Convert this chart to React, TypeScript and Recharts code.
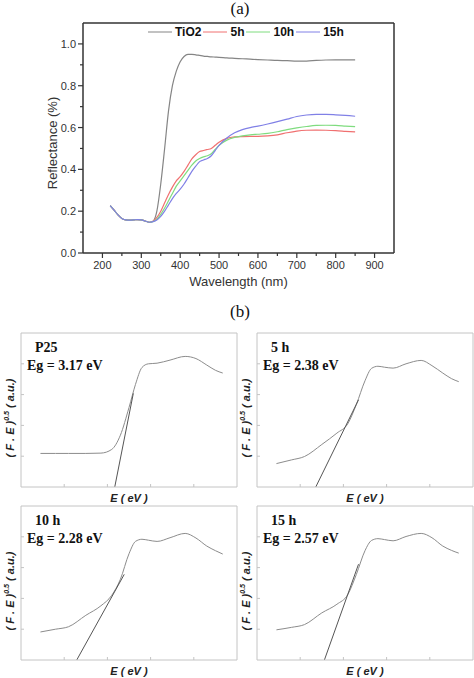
import React from 'react';
import { LineChart, Line, XAxis, YAxis, ReferenceLine, Legend } from 'recharts';

// (a) diffuse reflectance spectra
const wavelengths = [
  220, 230, 240, 250, 260, 270, 280, 290, 300, 310, 320, 330, 340, 350, 360, 370, 380, 390, 400, 410,
  420, 430, 440, 450, 460, 470, 480, 490, 500, 520, 540, 560, 580, 600, 625, 650, 675, 700, 725, 750,
  775, 800, 825, 850,
];
const tio2 = [
  0.227, 0.205, 0.182, 0.165, 0.158, 0.157, 0.158, 0.16, 0.158, 0.153, 0.147, 0.152, 0.2, 0.33, 0.5, 0.68,
  0.8, 0.87, 0.915, 0.94, 0.95, 0.95, 0.948, 0.945, 0.942, 0.94, 0.938, 0.937, 0.936, 0.933, 0.931, 0.929,
  0.927, 0.925, 0.923, 0.921, 0.92, 0.918, 0.918, 0.921, 0.923, 0.924, 0.924, 0.924,
];
const h5 = [
  0.227, 0.205, 0.182, 0.165, 0.158, 0.157, 0.158, 0.16, 0.158, 0.153, 0.147, 0.152, 0.17, 0.2, 0.24, 0.28,
  0.315, 0.345, 0.365, 0.39, 0.42, 0.45, 0.47, 0.485, 0.49, 0.495, 0.5, 0.515, 0.53, 0.548, 0.555, 0.557,
  0.558, 0.558, 0.56, 0.565, 0.575, 0.583, 0.587, 0.588, 0.587, 0.585, 0.582, 0.579,
];
const h10 = [
  0.227, 0.205, 0.182, 0.165, 0.158, 0.157, 0.158, 0.16, 0.158, 0.153, 0.147, 0.15, 0.162, 0.185, 0.215, 0.25,
  0.285, 0.32, 0.345, 0.37, 0.395, 0.42, 0.44, 0.452, 0.46, 0.465, 0.475, 0.495, 0.515, 0.54, 0.553, 0.56,
  0.565, 0.568, 0.572, 0.58, 0.59, 0.598, 0.605, 0.61, 0.611, 0.61, 0.607, 0.604,
];
const h15 = [
  0.227, 0.205, 0.182, 0.165, 0.158, 0.157, 0.158, 0.16, 0.158, 0.153, 0.147, 0.15, 0.158, 0.175, 0.2, 0.23,
  0.26, 0.285, 0.305, 0.33, 0.36, 0.39, 0.415, 0.437, 0.445, 0.452, 0.465, 0.49, 0.515, 0.55, 0.575, 0.59,
  0.6, 0.607, 0.617, 0.628, 0.64, 0.653, 0.66, 0.663, 0.663, 0.661, 0.658, 0.654,
];
const seriesNames = ['TiO2', '5h', '10h', '15h'];
const xTicksA = [200, 250, 300, 350, 400, 450, 500, 550, 600, 650, 700, 750, 800, 850, 900];
const yTicksA = [0, 0.1, 0.2, 0.3, 0.4, 0.5, 0.6, 0.7, 0.8, 0.9, 1.0];

const reflectance = wavelengths.map((w, i) => ({ w, tio2: tio2[i], h5: h5[i], h10: h10[i], h15: h15[i] }));

// (b) Tauc plots
const energies = [0.45, 0.8, 1.1, 1.5, 1.85, 2.1, 2.3, 2.5, 2.65, 2.8, 2.95, 3.15, 3.45, 3.8, 4.05, 4.3, 4.5, 4.67];
const p25 = [1.09, 1.09, 1.09, 1.09, 1.1, 1.22, 1.68, 2.58, 3.33, 3.88, 4.0, 4.02, 4.12, 4.24, 4.17, 3.96, 3.79, 3.7];
const t5h = [0.76, 0.88, 0.99, 1.38, 1.75, 2.05, 2.68, 3.45, 3.85, 3.92, 3.89, 3.86, 4.0, 4.11, 3.94, 3.7, 3.52, 3.42];
const t10h = [0.91, 1.0, 1.08, 1.45, 1.76, 2.1, 2.62, 3.45, 3.85, 3.92, 3.89, 3.85, 3.97, 4.11, 3.96, 3.7, 3.55, 3.44];
const t15h = [0.98, 1.06, 1.15, 1.53, 1.81, 2.12, 2.78, 3.55, 3.88, 3.94, 3.91, 3.87, 4.01, 4.11, 3.97, 3.7, 3.56, 3.47];
const tangentE = { p25: [2.17, 2.6], t5h: [1.36, 2.35], t10h: [1.29, 2.39], t15h: [1.56, 2.35] };
const tangentF = { p25: [0, 3.04], t5h: [0, 2.83], t10h: [0, 2.78], t15h: [0, 3.11] };
const gapTicks = [1, 2, 3, 4];

const SANS = '"Liberation Sans", Arial, sans-serif';
const SERIF = '"Liberation Serif", "Times New Roman", serif';
const INK = '#333';
const FRAME_B = '#c4c4c4';

function XTickA({ x, y, payload }: any) {
  const major = payload.value % 100 === 0;
  return (
    <g>
      <line x1={x} y1={y} x2={x} y2={y + (major ? 5 : 3)} stroke={INK} strokeWidth={1.2} />
      {major && (
        <text x={x} y={y + 16} textAnchor="middle" fontSize={11} fontFamily={SANS} fill={INK}>
          {payload.value}
        </text>
      )}
    </g>
  );
}

function YTickA({ x, y, payload }: any) {
  const major = Math.round(payload.value * 10) % 2 === 0;
  return (
    <g>
      <line x1={x} y1={y} x2={x - (major ? 5 : 3)} y2={y} stroke={INK} strokeWidth={1.2} />
      {major && (
        <text x={x - 7} y={y + 4} textAnchor="end" fontSize={11} fontFamily={SANS} fill={INK}>
          {payload.value.toFixed(1)}
        </text>
      )}
    </g>
  );
}

function LegendA({ payload }: any) {
  const items = [...(payload || [])].sort(
    (a: any, b: any) => seriesNames.indexOf(a.value) - seriesNames.indexOf(b.value),
  );
  return (
    <div style={{ display: 'flex', alignItems: 'center', fontFamily: SANS, fontWeight: 'bold', fontSize: 12, color: '#111' }}>
      {items.map((p: any) => (
        <span key={p.value} style={{ display: 'flex', alignItems: 'center', marginRight: 2 }}>
          <svg width={24} height={4} style={{ marginRight: 3 }}>
            <line x1={0} y1={2} x2={24} y2={2} stroke={p.color} strokeWidth={1} />
          </svg>
          {p.value}
        </span>
      ))}
    </div>
  );
}

function ReflectanceChart() {
  return (
    <LineChart width={474} height={300} data={reflectance} margin={{ top: 23, right: 80, bottom: 17, left: 43 }}>
      <XAxis
        dataKey="w"
        type="number"
        domain={[150, 950]}
        ticks={xTicksA}
        interval={0}
        tick={<XTickA />}
        tickLine={false}
        tickSize={0}
        tickMargin={0}
        height={30}
        axisLine={{ stroke: INK, strokeWidth: 1.5 }}
        label={(p: any) => {
          const vb = p.viewBox || { x: 83, y: 253, width: 311 };
          return (
            <text x={vb.x + vb.width / 2} y={vb.y + 33} textAnchor="middle" fontSize={13} fontFamily={SANS} fill={INK}>
              Wavelength (nm)
            </text>
          );
        }}
      />
      <YAxis
        type="number"
        domain={[0, 1.1]}
        ticks={yTicksA}
        interval={0}
        tick={<YTickA />}
        tickLine={false}
        tickSize={0}
        tickMargin={0}
        width={40}
        axisLine={{ stroke: INK, strokeWidth: 1.5 }}
        label={(p: any) => {
          const vb = p.viewBox || { x: 43, y: 23, height: 230 };
          const cx = vb.x + 10;
          const cy = vb.y + vb.height / 2 + 5;
          return (
            <text transform={`rotate(-90 ${cx} ${cy})`} x={cx} y={cy + 4} textAnchor="middle" fontSize={13} fontFamily={SANS} fill={INK}>
              Reflectance (%)
            </text>
          );
        }}
      />
      <ReferenceLine y={1.1} stroke={INK} strokeWidth={1.5} />
      <ReferenceLine x={950} stroke={INK} strokeWidth={1.5} />
      <Legend
        layout="horizontal"
        verticalAlign="middle"
        content={<LegendA />}
        wrapperStyle={{ top: 25, left: 148, width: 'auto' }}
      />
      <Line type="monotone" dataKey="tio2" name="TiO2" stroke="#858585" strokeWidth={1.2} dot={false} activeDot={false} isAnimationActive={false} />
      <Line type="monotone" dataKey="h5" name="5h" stroke="#f07070" strokeWidth={1.2} dot={false} activeDot={false} isAnimationActive={false} />
      <Line type="monotone" dataKey="h10" name="10h" stroke="#7fdc7f" strokeWidth={1.2} dot={false} activeDot={false} isAnimationActive={false} />
      <Line type="monotone" dataKey="h15" name="15h" stroke="#8080e6" strokeWidth={1.2} dot={false} activeDot={false} isAnimationActive={false} />
    </LineChart>
  );
}

function XTickB({ x, y }: any) {
  return <line x1={x} y1={y} x2={x} y2={y - 3} stroke={FRAME_B} strokeWidth={1} />;
}
function YTickB({ x, y }: any) {
  return <line x1={x} y1={y} x2={x + 3} y2={y} stroke={FRAME_B} strokeWidth={1} />;
}

function GapPanel({ left, top, name, eg, values, tanE, tanF }: any) {
  const curve = energies.map((e, i) => ({ e, f: values[i] }));
  const tangent = tanE.map((e: number, i: number) => ({ e, f: tanF[i] }));
  return (
    <div style={{ position: 'absolute', left, top, width: 238, height: 190 }}>
      <LineChart width={238} height={190} margin={{ top: 13, right: 1, bottom: 3, left: 20 }}>
        <XAxis
          dataKey="e"
          type="number"
          domain={[0, 5]}
          ticks={gapTicks}
          interval={0}
          tick={<XTickB />}
          tickLine={false}
          tickSize={0}
          tickMargin={0}
          height={20}
          axisLine={{ stroke: FRAME_B }}
          label={(p: any) => {
            const vb = p.viewBox || { x: 21, y: 167, width: 216 };
            return (
              <text x={vb.x + vb.width / 2} y={vb.y + 15} textAnchor="middle" fontSize={11} fontWeight="bold" fontStyle="italic" fontFamily={SANS} fill="#222">
                E ( eV )
              </text>
            );
          }}
        />
        <YAxis
          type="number"
          domain={[0, 5]}
          ticks={gapTicks}
          interval={0}
          tick={<YTickB />}
          tickLine={false}
          tickSize={0}
          tickMargin={0}
          width={1}
          axisLine={{ stroke: FRAME_B }}
          label={(p: any) => {
            const vb = p.viewBox || { x: 20, y: 13, width: 1 };
            const cx = vb.x + vb.width - 11;
            const cy = vb.y + 85;
            return (
              <text transform={`rotate(-90 ${cx} ${cy})`} x={cx} y={cy + 4} textAnchor="middle" fontSize={11} fontWeight="bold" fontStyle="italic" fontFamily={SANS} fill="#222">
                <tspan>( F . E )</tspan>
                <tspan dy={-5} fontSize={7}>0.5</tspan>
                <tspan dy={5}> ( a.u.)</tspan>
              </text>
            );
          }}
        />
        <ReferenceLine y={5} stroke={FRAME_B} />
        <ReferenceLine x={5} stroke={FRAME_B} />
        <Line data={curve} type="monotone" dataKey="f" stroke="#8c8c8c" strokeWidth={1} dot={false} activeDot={false} isAnimationActive={false} />
        <Line data={tangent} type="linear" dataKey="f" stroke="#555" strokeWidth={1} dot={false} activeDot={false} isAnimationActive={false} />
      </LineChart>
      <div style={{ position: 'absolute', left: 35, top: 20, fontFamily: SERIF, fontWeight: 'bold', fontSize: 14, lineHeight: '16px', color: '#111', whiteSpace: 'nowrap' }}>
        {name}
      </div>
      <div style={{ position: 'absolute', left: 27, top: 38, fontFamily: SERIF, fontWeight: 'bold', fontSize: 14, lineHeight: '16px', color: '#111', whiteSpace: 'nowrap' }}>
        Eg = {eg} eV
      </div>
    </div>
  );
}

export default function App() {
  return (
    <div style={{ position: 'absolute', left: 0, top: 0, width: 474, height: 678, overflow: 'hidden', background: '#fff' }}>
      <div style={{ position: 'absolute', left: 0, top: 0 }}>
        <ReflectanceChart />
      </div>
      <div style={{ position: 'absolute', left: 0, width: 480, top: -1, textAlign: 'center', fontFamily: SERIF, fontSize: 17, color: '#111' }}>
        (a)
      </div>
      <div style={{ position: 'absolute', left: 0, width: 480, top: 302, textAlign: 'center', fontFamily: SERIF, fontSize: 17, color: '#111' }}>
        (b)
      </div>
      <GapPanel left={0} top={320} name="P25" eg="3.17" values={p25} tanE={tangentE.p25} tanF={tangentF.p25} />
      <GapPanel left={236} top={320} name="5 h" eg="2.38" values={t5h} tanE={tangentE.t5h} tanF={tangentF.t5h} />
      <GapPanel left={0} top={493} name="10 h" eg="2.28" values={t10h} tanE={tangentE.t10h} tanF={tangentF.t10h} />
      <GapPanel left={236} top={493} name="15 h" eg="2.57" values={t15h} tanE={tangentE.t15h} tanF={tangentF.t15h} />
    </div>
  );
}
